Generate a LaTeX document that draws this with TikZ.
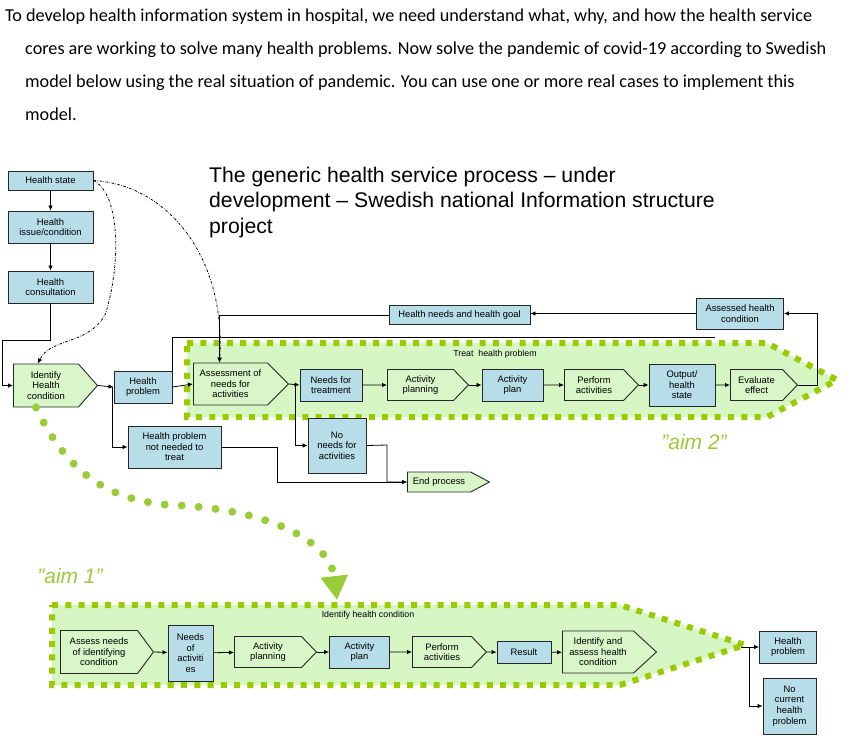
\documentclass[tikz,border=0pt]{standalone}
\usepackage{fontspec}
\setmainfont{Liberation Sans}
\newfontfamily\calfont[Ligatures=NoCommon]{Carlito}
\usetikzlibrary{arrows.meta,shapes.symbols}
\definecolor{boxblue}{HTML}{B7DDE8}
\definecolor{stepgreen}{HTML}{D8F6C8}
\definecolor{areagreen}{HTML}{D6F7C4}
\definecolor{dotgreen}{HTML}{99CC00}
\definecolor{aimgreen}{HTML}{9ACC3A}

\begin{document}
\begin{tikzpicture}[x=1pt,y=-1pt,
    para/.style={anchor=base west, inner sep=0pt, font=\calfont\fontsize{18.2}{21}\selectfont},
    ttl/.style={anchor=base west, inner sep=0pt, font=\fontsize{21.2}{25}\selectfont},
    bluebox/.style={rectangle, draw=black!85, fill=boxblue, line width=0.9pt, align=center,
                    inner sep=1pt, font=\fontsize{9.4}{10.6}\selectfont},
    greenstep/.style={signal, signal to=east, signal from=nowhere, anchor=west, draw=black!85,
                      fill=stepgreen, line width=0.9pt, align=center, inner sep=1pt,
                      font=\fontsize{9.4}{10.6}\selectfont},
    conn/.style={line width=0.8pt, -{Latex[length=5pt,width=4.5pt]}},
    link/.style={line width=0.8pt},
    dashdot/.style={line width=0.8pt, dash pattern=on 2.5pt off 1.5pt on 0.6pt off 1.5pt,
                    -{Latex[length=5pt,width=4.5pt]}},
    area/.style={fill=areagreen, draw=dotgreen, line width=6pt, dash pattern=on 6pt off 7.3pt},
    arealbl/.style={inner sep=0pt, font=\fontsize{8.8}{10}\selectfont},
    aimlbl/.style={inner sep=0pt, text=aimgreen, font=\fontsize{21}{24}\selectfont\itshape},
    aimdots/.style={draw=aimgreen, line width=8pt, line cap=round, dash pattern=on 0pt off 17pt}]

  \useasboundingbox (0,0) rectangle (857,747);

  % -- the task text above the figure
  \node[para] (q1) at (5,21.5) {To develop health information system in hospital, we need understand what, why, and how the health service};
  \node[para] (q2) at (25,54) {cores are working to solve many health problems. Now solve the pandemic of covid-19 according to Swedish};
  \node[para] (q3) at (25,87) {model below using the real situation of pandemic. You can use one or more real cases to implement this};
  \node[para] (q4) at (25,120) {model.};

  % -- title
  \node[ttl] (t1) at (209,182) {The generic health service process – under};
  \node[ttl] (t2) at (209,207.5) {development – Swedish national Information structure};
  \node[ttl] (t3) at (209,233) {project};

  % -- the two process areas (dotted arrows)
  \path[area] (187,343) -- (767,343) -- (837,380) -- (767,417) -- (187,417) -- cycle;
  \node[arealbl] (treatlbl) at (495,354) {Treat\ \ health problem};
  \path[area] (52,605) -- (620,605) -- (745,645) -- (620,685) -- (52,685) -- cycle;
  \node[arealbl] (identlbl) at (368,615) {Identify health condition};

  % -- left column
  \node[bluebox, minimum width=85pt, minimum height=19pt] (hstate) at (50.5,180.5) {Health state};
  \node[bluebox, minimum width=85pt, minimum height=32pt] (hissue) at (50.5,227) {Health\\issue/condition};
  \node[bluebox, minimum width=85pt, minimum height=32pt] (hconsult) at (50.5,287) {Health\\consultation};
  \node[greenstep, minimum width=84pt, minimum height=43pt, signal pointer angle=97] (ident) at (13,385.5) {Identify\\Health\\condition};
  \node[bluebox, minimum width=58pt, minimum height=32pt] (hprob) at (143,387) {Health\\problem};
  \node[bluebox, minimum width=93pt, minimum height=42pt] (notneed) at (174.5,447) {Health problem\\not needed to\\treat};

  % -- treat health problem
  \node[greenstep, minimum width=95pt, minimum height=42pt, signal pointer angle=90] (assess) at (193,384) {Assessment of\\needs for\\activities};
  \node[bluebox, minimum width=62pt, minimum height=32pt] (needtreat) at (331,385) {Needs for\\treatment};
  \node[greenstep, minimum width=81pt, minimum height=31pt, signal pointer angle=92] (planstep) at (387,385) {Activity\\planning};
  \node[bluebox, minimum width=61pt, minimum height=32pt] (plan) at (512.5,385) {Activity\\plan};
  \node[greenstep, minimum width=74pt, minimum height=31pt, signal pointer angle=92] (perform) at (564,385) {Perform\\activities};
  \node[bluebox, minimum width=66pt, minimum height=42pt] (output) at (682,385) {Output/\\health\\state};
  \node[greenstep, minimum width=67pt, minimum height=31pt, signal pointer angle=92] (evaluate) at (730,385) {Evaluate\\effect};
  \node[bluebox, minimum width=87pt, minimum height=31pt] (assessed) at (740,313.5) {Assessed health\\condition};
  \node[bluebox, minimum width=141pt, minimum height=19pt] (hneeds) at (459.5,315) {Health needs and health goal};
  \node[bluebox, minimum width=58pt, minimum height=55pt] (noneeds) at (337,445.5) {No\\needs for\\activities};
  \node[greenstep, minimum width=82pt, minimum height=20pt, signal pointer angle=56] (endproc) at (407,482) {End process};

  % -- identify health condition
  \node[greenstep, minimum width=93pt, minimum height=43pt, signal pointer angle=107] (assessid) at (60,652) {Assess needs\\of identifying\\condition};
  \node[bluebox, minimum width=45pt, minimum height=56pt] (needsact) at (190.5,653) {Needs\\of\\activiti\\es};
  \node[greenstep, minimum width=82pt, minimum height=31pt, signal pointer angle=92] (planstepb) at (234,652) {Activity\\planning};
  \node[bluebox, minimum width=60pt, minimum height=32pt] (planb) at (359.5,652) {Activity\\plan};
  \node[greenstep, minimum width=74pt, minimum height=31pt, signal pointer angle=92] (performb) at (412,652) {Perform\\activities};
  \node[bluebox, minimum width=54pt, minimum height=22pt] (result) at (524,652.5) {Result};
  \node[greenstep, minimum width=94pt, minimum height=42pt, signal pointer angle=85] (identassess) at (562,652) {Identify and\\assess health\\condition};
  \node[bluebox, minimum width=57pt, minimum height=32pt] (hprobb) at (788,647) {Health\\problem};
  \node[bluebox, minimum width=53pt, minimum height=56pt] (nocurrent) at (789.5,706) {No\\current\\health\\problem};

  % -- aim labels
  \node[aimlbl] (aim1) at (70,576) {”aim 1”};
  \node[aimlbl] (aim2) at (694,442) {”aim 2”};

  % -- bend points for the connectors
  \coordinate (c1) at (2,340);
  \coordinate (c2) at (277,447);
  \coordinate (c3) at (387,445);
  \coordinate (c4) at (817,385);
  \coordinate (c5) at (749,647);
  \coordinate (topend) at (715,337);
  \coordinate (tipb) at (741,647);
  \coordinate (aimtip) at (337,600);

  % -- connectors, left column
  \draw[conn] (hstate) -- (hissue);
  \draw[conn] (hissue) -- (hconsult);
  \draw[conn] (hconsult.south) |- (c1) |- (ident.west);
  \draw[conn] (ident.east) -- (hprob.west);
  \draw[conn] (hprob.east) -- (assess.west);
  \draw[link] (hprob.north east) |- (topend);
  \draw[conn] ([xshift=-1pt]hprob.west) |- (notneed.west);
  \draw[conn] (notneed.east) -- (c2) |- (endproc.west);

  % -- connectors, treat health problem
  \draw[conn] (assess.east) -- (needtreat.west);
  \draw[conn] ([xshift=-4pt]needtreat.west) |- (noneeds.west);
  \draw[conn] (noneeds.east) -- (c3) |- (endproc.west);
  \draw[conn] (needtreat) -- (planstep);
  \draw[conn] (planstep.east) -- (plan);
  \draw[conn] (plan) -- (perform);
  \draw[conn] (perform.east) -- (output);
  \draw[conn] (output) -- (evaluate);
  \draw[conn] (evaluate.east) -- (c4) |- (assessed.east);
  \draw[conn] (assessed.west) -- (assessed.west -| hneeds.east);
  \draw[conn] (hneeds.west) -| ([xshift=-11pt]assess.north);

  % -- dash-dot influence lines from the health state
  \draw[dashdot] (hstate.east) .. controls (170,185) and (226,260) .. ([xshift=-11pt]assess.north);
  \draw[dashdot] (hstate.east) .. controls (122,195) and (120,270) .. (105,315)
                 .. controls (88,345) and (50,338) .. ([xshift=-8pt]ident.north);

  % -- connectors, identify health condition
  \draw[conn] (assessid.east) -- (needsact);
  \draw[conn] (needsact) -- (planstepb);
  \draw[conn] (planstepb.east) -- (planb);
  \draw[conn] (planb) -- (performb);
  \draw[conn] (performb.east) -- (result);
  \draw[conn] (result) -- (identassess);
  \draw[conn] (tipb) -- (hprobb.west);
  \draw[conn] (c5) |- (nocurrent.west);

  % -- aim 1: from the first step down to the identify process
  \draw[aimdots, -{Triangle[length=24pt,width=26pt]}] ([xshift=-10pt]ident.south)
        .. controls (66,470) and (105,500) .. (170,505)
        .. controls (265,508) and (330,540) .. (aimtip);
\end{tikzpicture}
\end{document}
